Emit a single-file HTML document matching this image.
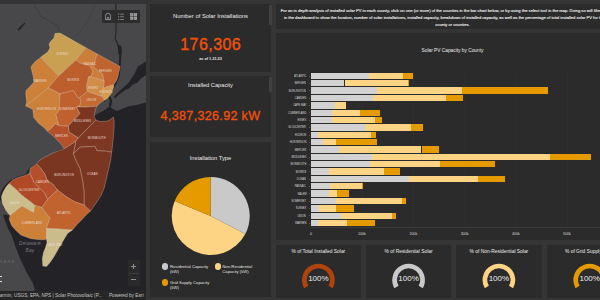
<!DOCTYPE html>
<html><head><meta charset="utf-8">
<style>
*{margin:0;padding:0;box-sizing:border-box}
html,body{width:600px;height:300px;overflow:hidden;background:#353535;font-family:"Liberation Sans",sans-serif;color:#ececec}
.abs{position:absolute}
.panel{position:absolute;background:#2b2b2b}
.t{position:absolute;white-space:nowrap;text-align:center}
.lb{position:absolute;right:293.7px;font-size:3.05px;line-height:4px;color:#dcdcdc;white-space:nowrap;transform:scaleX(0.86);transform-origin:100% 50%}
.bar{position:absolute;height:6.4px}
.dot{position:absolute;width:6.6px;height:6.6px;border-radius:50%}
.lg{position:absolute;font-size:4.2px;line-height:4.9px;color:#e0e0e0;white-space:nowrap}
</style></head><body>
<div class="abs" style="left:0;top:0;width:600px;height:300px;overflow:hidden">

<!-- MAP -->
<div class="abs" id="map" style="left:0;top:3.5px;width:146px;height:296.5px;background:#48484a;overflow:hidden">
<svg width="146" height="297" viewBox="0 3.5 146 297" style="position:absolute;left:0;top:0">
<!--MAPSVG-->
<rect x="0" y="3.5" width="146" height="297" fill="#48484a"/>
<path d="M146,102 L136,104.5 L128,106 L117,110.5 L112,108 L110,105.5 L106,108.5 L103,110.5 L98,113 L94,115.5 L90,118 L100,125 L105,160 L85,205 L60,235 L45,240 L30,232 L15,222 L10,215 L3,214 L5,220 L8,228 L11.7,235 L15,245 L20,258 L26.7,272 L33,283 L35,290 L35,292 L35,300.5 L146,300.5 Z" fill="#232327"/>
<path d="M114,96 L120,90 L128,83 L134,74 L138,66 L146,61 L146,74.5 L141,78 L137,82.5 L133,84 L129,88 L126,89 L119,94 L115,98 Z" fill="#232327"/>
<path d="M115.8,3.5 L116,20 L116,32 L115,38 L118,44" fill="none" stroke="#232327" stroke-width="1.1" stroke-linejoin="round"/>
<path d="M118,44 L120.5,52 L120,60 L119.5,68 L118.5,76 L115,84 L110,93 L104,101" fill="none" stroke="#232327" stroke-width="2" stroke-linejoin="round"/>
<ellipse cx="120" cy="50" rx="1.8" ry="5" fill="#232327"/>
<path d="M106,98 L109,96 L111,100 L110,106" fill="none" stroke="#232327" stroke-width="2.4" stroke-linejoin="round"/>
<path d="M64,148.5 L57,151 L50,156 L42,160 L36,164 L30,168 L26,174.5 L18,177 L10,181 L5,186 L1.5,192 L0,200" fill="none" stroke="#232327" stroke-width="1.5" stroke-linejoin="round"/>
<path d="M19,29 L21,27 L23,24.5 L25,22.5 L24,23.5 L21,26 L18,29.5" fill="none" stroke="#232327" stroke-width="1.2"/>
<path d="M33.8,3.5 L37.5,10 L41,16 L50,21 L57.5,25 L60,32.5" fill="none" stroke="#333335" stroke-width="0.5"/>
<path d="M95,3.5 L91,15 L85,25 L75,36" fill="none" stroke="#38383a" stroke-width="0.4"/>
<path d="M60.0,32.5 L86.0,47.3 L76.0,59.5 L58.5,75.5 L40.8,57.0 L41.7,55.8 L45.0,53.5 L47.5,51.7 L50.0,47.5 L49.0,43.5 L50.8,40.8 L54.0,37.5 L55.0,33.0Z" fill="#c9a052" stroke="#f2d6c4" stroke-opacity="0.6" stroke-width="0.5" stroke-linejoin="round"/>
<path d="M86.0,47.3 L97.3,53.5 L96.0,57.0 L94.7,62.0 L94.0,66.7 L98.7,70.7 L102.7,73.3 L104.0,80.3 L96.0,78.0 L88.7,76.3 L91.3,75.5 L92.7,70.7 L90.0,65.3 L84.7,64.0 L80.0,62.7 L76.0,59.5Z" fill="#cb7d3a" stroke="#f2d6c4" stroke-opacity="0.6" stroke-width="0.5" stroke-linejoin="round"/>
<path d="M97.3,53.5 L120.0,66.0 L119.5,69.0 L118.7,72.0 L118.0,75.7 L116.5,80.0 L113.5,84.5 L108.0,86.0 L103.3,87.7 L103.8,84.0 L104.0,80.3 L102.7,73.3 L98.7,70.7 L94.0,66.7 L94.7,62.0 L96.0,57.0Z" fill="#c0632f" stroke="#f2d6c4" stroke-opacity="0.6" stroke-width="0.5" stroke-linejoin="round"/>
<path d="M40.8,57.0 L58.5,75.5 L48.3,87.5 L25.8,105.5 L26.7,101.0 L25.8,94.0 L26.0,90.0 L29.0,87.0 L34.0,81.5 L33.3,76.0 L32.0,71.0 L31.0,66.5 L33.5,63.0 L36.5,60.0Z" fill="#cc8038" stroke="#f2d6c4" stroke-opacity="0.6" stroke-width="0.5" stroke-linejoin="round"/>
<path d="M58.5,75.5 L76.0,59.5 L80.0,62.7 L84.7,64.0 L90.0,65.3 L92.7,70.7 L91.3,75.5 L88.7,76.3 L86.7,85.0 L87.3,91.0 L83.3,94.3 L79.5,97.3 L77.5,96.7 L73.3,90.0 L66.0,92.0 L60.0,93.3 L48.3,87.5Z" fill="#bd5f2c" stroke="#f2d6c4" stroke-opacity="0.6" stroke-width="0.5" stroke-linejoin="round"/>
<path d="M25.8,105.5 L48.3,87.5 L60.0,93.3 L59.5,103.0 L59.2,110.0 L56.0,114.0 L57.5,120.0 L59.0,125.0 L55.0,123.3 L52.5,126.7 L47.5,130.8 L43.9,127.0 L38.3,122.5 L33.8,117.0 L32.8,109.0 L29.0,107.0Z" fill="#cc8039" stroke="#f2d6c4" stroke-opacity="0.6" stroke-width="0.5" stroke-linejoin="round"/>
<path d="M88.7,76.3 L96.0,78.0 L104.0,80.3 L103.8,84.0 L103.3,87.7 L102.5,92.0 L102.0,96.0 L96.7,94.3 L91.3,92.3 L87.3,91.0 L86.7,85.0Z" fill="#d08d45" stroke="#f2d6c4" stroke-opacity="0.6" stroke-width="0.5" stroke-linejoin="round"/>
<path d="M103.3,87.7 L108.0,86.0 L113.5,84.5 L113.8,86.5 L112.5,89.5 L111.3,93.0 L109.0,96.0 L107.3,98.3 L104.5,99.8 L102.0,96.0 L102.5,92.0Z" fill="#d49a52" stroke="#f2d6c4" stroke-opacity="0.6" stroke-width="0.5" stroke-linejoin="round"/>
<path d="M87.3,91.0 L91.3,92.3 L96.7,94.3 L102.0,96.0 L104.5,99.8 L102.0,101.0 L100.0,102.5 L98.0,104.5 L96.7,105.8 L86.0,106.5 L76.5,106.5 L80.0,104.5 L80.8,101.0 L79.5,97.3 L83.3,94.3Z" fill="#c46a33" stroke="#f2d6c4" stroke-opacity="0.6" stroke-width="0.5" stroke-linejoin="round"/>
<path d="M60.0,93.3 L66.0,92.0 L73.3,90.0 L77.5,96.7 L79.5,97.3 L80.8,101.0 L80.0,104.5 L76.5,106.5 L80.0,113.0 L78.3,115.0 L73.3,120.0 L68.3,125.8 L59.0,125.0 L57.5,120.0 L56.0,114.0 L59.2,110.0 L59.5,103.0Z" fill="#bf612f" stroke="#f2d6c4" stroke-opacity="0.6" stroke-width="0.5" stroke-linejoin="round"/>
<path d="M76.5,106.5 L86.0,106.5 L96.7,105.8 L95.5,109.0 L94.5,113.0 L94.2,116.5 L95.8,119.5 L86.0,129.5 L78.3,137.5 L69.0,131.7 L68.3,125.8 L73.3,120.0 L78.3,115.0 L80.0,113.0Z" fill="#7b3622" stroke="#f2d6c4" stroke-opacity="0.6" stroke-width="0.5" stroke-linejoin="round"/>
<path d="M47.5,130.8 L52.5,126.7 L55.0,123.3 L59.0,125.0 L68.3,125.8 L69.0,131.7 L78.3,137.5 L75.8,140.8 L68.3,145.8 L64.0,148.3 L61.3,143.6 L57.5,140.0 L54.9,137.2 L52.0,134.4Z" fill="#b4512a" stroke="#f2d6c4" stroke-opacity="0.6" stroke-width="0.5" stroke-linejoin="round"/>
<path d="M78.3,137.5 L86.0,129.5 L95.8,119.5 L100.0,121.0 L106.7,120.8 L110.5,119.0 L113.3,116.5 L114.2,121.0 L114.0,128.0 L113.3,137.0 L112.5,145.0 L111.7,151.7 L106.7,150.8 L96.7,150.0 L95.0,145.8 L80.0,146.7 L73.3,153.3 L75.8,140.8Z" fill="#7d3722" stroke="#f2d6c4" stroke-opacity="0.6" stroke-width="0.5" stroke-linejoin="round"/>
<path d="M73.3,153.3 L80.0,146.7 L95.0,145.8 L96.7,150.0 L106.7,150.8 L111.7,151.7 L110.8,158.0 L109.5,165.0 L107.8,172.0 L106.0,180.0 L104.0,188.0 L101.0,195.0 L96.5,202.0 L90.5,210.5 L84.0,204.5 L84.0,190.0 L82.5,180.0 L80.0,168.0 L75.8,160.0Z" fill="#7b3622" stroke="#f2d6c4" stroke-opacity="0.6" stroke-width="0.5" stroke-linejoin="round"/>
<path d="M36.5,163.5 L40.0,159.5 L44.0,157.0 L48.0,155.0 L53.0,152.5 L58.0,150.5 L64.0,148.3 L68.3,145.8 L75.8,140.8 L73.3,153.3 L75.8,160.0 L80.0,168.0 L82.5,180.0 L84.0,190.0 L84.0,204.5 L74.0,201.0 L66.0,196.0 L57.5,189.5 L52.7,183.5 L47.5,180.5 L44.5,173.0 L40.0,167.0Z" fill="#7b3622" stroke="#f2d6c4" stroke-opacity="0.6" stroke-width="0.5" stroke-linejoin="round"/>
<path d="M30.0,173.0 L30.0,168.0 L36.5,163.5 L40.0,167.0 L44.5,173.0 L47.5,180.5 L52.7,183.5 L57.5,189.5 L47.5,199.0 L44.5,192.5 L40.0,188.0 L34.0,182.0Z" fill="#b34f2a" stroke="#f2d6c4" stroke-opacity="0.6" stroke-width="0.5" stroke-linejoin="round"/>
<path d="M9.0,183.0 L12.0,180.0 L16.0,178.0 L20.0,176.5 L25.0,175.0 L30.0,173.0 L34.0,182.0 L40.0,188.0 L44.5,192.5 L47.5,199.0 L42.0,207.0 L35.0,205.0 L30.0,201.0 L22.0,195.0 L15.0,188.0Z" fill="#b04a26" stroke="#f2d6c4" stroke-opacity="0.6" stroke-width="0.5" stroke-linejoin="round"/>
<path d="M10.0,215.0 L6.0,210.0 L2.5,203.0 L1.5,196.0 L4.0,190.0 L6.5,186.0 L9.0,183.0 L15.0,188.0 L22.0,195.0 L30.0,201.0 L35.0,205.0 L33.5,212.0 L22.0,205.5Z" fill="#cbbc8c" stroke="#f2d6c4" stroke-opacity="0.6" stroke-width="0.5" stroke-linejoin="round"/>
<path d="M10.0,215.0 L22.0,205.5 L33.5,212.0 L35.0,205.0 L42.0,207.0 L45.0,211.0 L50.0,217.5 L46.5,228.0 L46.5,238.5 L42.0,239.3 L36.0,238.8 L30.3,238.0 L25.0,236.0 L21.0,234.6 L16.0,230.0 L11.7,225.0 L9.3,219.0Z" fill="#cc8038" stroke="#f2d6c4" stroke-opacity="0.6" stroke-width="0.5" stroke-linejoin="round"/>
<path d="M47.5,199.0 L57.5,189.5 L66.0,196.0 L74.0,201.0 L84.0,204.5 L90.5,210.5 L86.0,214.5 L82.0,219.0 L77.0,224.0 L72.3,229.5 L58.0,228.5 L46.5,228.0 L50.0,217.5 L45.0,211.0 L42.0,207.0Z" fill="#c0632f" stroke="#f2d6c4" stroke-opacity="0.6" stroke-width="0.5" stroke-linejoin="round"/>
<path d="M46.5,228.0 L58.0,228.5 L72.3,229.5 L67.5,233.0 L63.0,240.5 L58.3,248.6 L53.6,256.8 L50.0,262.0 L46.5,266.0 L42.8,265.5 L42.3,258.0 L43.5,252.0 L45.5,247.0 L47.0,242.0 L46.5,238.5Z" fill="#cbbc8c" stroke="#f2d6c4" stroke-opacity="0.6" stroke-width="0.5" stroke-linejoin="round"/>
<g font-family="Liberation Sans" font-size="2.85" fill="#eadbd0" letter-spacing="0.1"><text x="62.5" y="54" text-anchor="middle">SUSSEX</text><text x="90" y="64.3" text-anchor="middle">PASSAIC</text><text x="105.3" y="71.4" text-anchor="middle">BERGEN</text><text x="40" y="81.3" text-anchor="middle">WARREN</text><text x="73.3" y="80.7" text-anchor="middle">MORRIS</text><text x="46.3" y="109.3" text-anchor="middle">HUNTERDON</text><text x="67.3" y="109.5" text-anchor="middle">SOMERSET</text><text x="93.3" y="88" text-anchor="middle">ESSEX</text><text x="106" y="92.7" text-anchor="middle">HUDSON</text><text x="91.3" y="100.4" text-anchor="middle">UNION</text><text x="82.5" y="121.8" text-anchor="middle">MIDDLESEX</text><text x="61.7" y="136.8" text-anchor="middle">MERCER</text><text x="96.7" y="138.5" text-anchor="middle">MONMOUTH</text><text x="64" y="175.4" text-anchor="middle">BURLINGTON</text><text x="92.4" y="174.4" text-anchor="middle">OCEAN</text><text x="42.4" y="182.4" text-anchor="middle">CAMDEN</text><text x="29" y="190.6" text-anchor="middle">GLOUCESTER</text><text x="14.5" y="203" text-anchor="middle">SALEM</text><text x="31.7" y="223.2" text-anchor="middle">CUMBERLAND</text><text x="64.1" y="213.5" text-anchor="middle">ATLANTIC</text><text x="54.8" y="245" text-anchor="middle">CAPE MAY</text></g>
<text x="30" y="244.3" text-anchor="middle" font-family="Liberation Sans" font-style="italic" font-size="4.7" fill="#76767c" letter-spacing="0.25">Delaware</text><text x="30" y="251.8" text-anchor="middle" font-family="Liberation Sans" font-style="italic" font-size="4.7" fill="#76767c" letter-spacing="0.25">Bay</text><text x="-1.5" y="262" font-family="Liberation Sans" font-size="4.1" fill="#6c6c70" letter-spacing="1.3">WARE</text>
<!--/MAPSVG-->
</svg>
<!-- map toolbar -->
<div class="abs" style="left:101.6px;top:6.7px;width:38.2px;height:12.6px;background:#2c2c2c;border-radius:1px"></div>
<svg class="abs" style="left:0;top:-3.5px" width="146" height="300" viewBox="0 0 146 300">
 <g fill="none" stroke="#c4c4c4" stroke-width="0.6" stroke-linejoin="round">
  <path d="M105.5,19.6 L105.5,16.6 Q105.5,13.3 108,13.1 Q110.6,13.3 110.6,16.6 L110.6,19.6 Z"/>
  <path d="M107.2,19.4 L107.2,17.6 Q108,16.7 108.9,17.6 L108.9,19.4"/>
 </g>
 <g fill="#c4c4c4">
  <rect x="118.3" y="13.6" width="0.9" height="0.9"/><rect x="118.3" y="16.4" width="0.9" height="0.9"/><rect x="118.3" y="19" width="0.9" height="0.9"/>
  <rect x="120.2" y="13.8" width="3.7" height="0.55"/><rect x="120.2" y="16.6" width="3.7" height="0.55"/><rect x="120.2" y="19.2" width="3.7" height="0.55"/>
  <rect x="134.3" y="13.6" width="2.5" height="2.5" fill="#8c8c8c"/><rect x="134.3" y="17.2" width="2.5" height="2.5" fill="#8c8c8c"/>
  <rect x="130.6" y="13.6" width="2.5" height="2.5" fill="#8c8c8c"/><rect x="130.6" y="17.2" width="2.5" height="2.5" fill="#8c8c8c"/>
 </g>
 <g fill="none" stroke="#c4c4c4" stroke-width="0.45">
  <rect x="130.6" y="13.6" width="2.5" height="2.5"/><rect x="134.3" y="13.6" width="2.5" height="2.5"/><rect x="130.6" y="17.2" width="2.5" height="2.5"/><rect x="134.3" y="17.2" width="2.5" height="2.5"/>
 </g>
</svg>
<!-- zoom -->
<div class="abs" style="left:127.5px;top:256.5px;width:12.5px;height:25.5px;background:#2a2a2b"></div>
<div class="abs" style="left:128.5px;top:269.3px;width:10.5px;height:0.45px;background:#3c3c3c"></div>
<div class="abs" style="left:130.8px;top:262.6px;width:5px;height:0.45px;background:#929292"></div>
<div class="abs" style="left:133.08px;top:260.3px;width:0.45px;height:5px;background:#929292"></div>
<div class="abs" style="left:130.8px;top:275.9px;width:5px;height:0.45px;background:#929292"></div>
<!-- attribution -->
<div class="abs" style="left:0;top:287.25px;width:146px;height:10px;background:#262627"></div>
<div class="abs" style="left:0;top:272.5px;width:2px;height:1.4px;background:#ddd"></div><div class="abs" style="left:0;top:277.5px;width:2px;height:1.4px;background:#ddd"></div>
<div class="abs" style="left:-0.3px;top:289px;font-size:4.7px;color:#c4c4c4;white-space:nowrap">armin, USGS, EPA, NPS | Solar Photovoltaic (P...</div>
<div class="abs" style="left:108.9px;top:289px;font-size:4.75px;color:#c4c4c4;white-space:nowrap">Powered by Esri</div>
</div>

<!-- KPI 1 -->
<div class="panel" style="left:150px;top:4px;width:121px;height:67.5px"></div>
<div class="t" style="left:150px;width:121px;top:13.2px;font-size:5.85px">Number of Solar Installations</div>
<div class="t" style="left:150px;width:121px;top:35.6px;font-size:16px;color:#f0500a;-webkit-text-stroke:0.4px #f0500a;letter-spacing:0.45px;text-indent:0.45px">176,306</div>
<div class="t" style="left:150px;width:121px;top:56.5px;font-size:3.8px;font-weight:bold">as of 1.31.23</div>
<div class="abs" style="left:268.6px;top:4.7px;width:3px;height:20px;background:#414141;border-radius:1px"></div>
<!-- KPI 2 -->
<div class="panel" style="left:150px;top:75.5px;width:121px;height:61px"></div>
<div class="t" style="left:150px;width:121px;top:81.7px;font-size:5.7px">Installed Capacity</div>
<div class="t" style="left:150px;width:121px;top:33px;font-size:12.5px;color:#f0500a;top:108.9px;letter-spacing:0.35px;-webkit-text-stroke:0.35px #f0500a">4,387,326.92 kW</div>
<div class="abs" style="left:268.6px;top:76.5px;width:3px;height:15px;background:#414141;border-radius:1px"></div>
<!-- PIE -->
<div class="panel" style="left:150px;top:141.8px;width:121px;height:155.5px"></div>
<div class="t" style="left:150px;width:121px;top:154.5px;font-size:5.75px">Installation Type</div>
<svg class="abs" style="left:0;top:0" width="600" height="300"><path d="M210.7,216 L210.70,177.00 A39,39 0 0 1 245.29,234.01 Z" fill="#c9c9c9"/><path d="M210.7,216 L245.29,234.01 A39,39 0 0 1 174.67,201.08 Z" fill="#fdd384"/><path d="M210.7,216 L174.67,201.08 A39,39 0 0 1 210.70,177.00 Z" fill="#e59b00"/></svg>
<div class="dot" style="left:161.7px;top:263.3px;background:#c9c9c9"></div>
<div class="lg" style="left:170px;top:265.1px">Residential Capacity<br>(kW)</div>
<div class="dot" style="left:214.7px;top:263.3px;background:#fdd384"></div>
<div class="lg" style="left:222.3px;top:265.1px">Non-Residential<br>Capacity (kW)</div>
<div class="dot" style="left:161.7px;top:279.3px;background:#e59b00"></div>
<div class="lg" style="left:170px;top:281.1px">Grid Supply Capacity<br>(kW)</div>

<!-- TEXT PANEL -->
<div class="panel" style="left:275.5px;top:4px;width:360px;height:24.7px"></div>
<div class="t" style="left:276.5px;width:352px;top:7px;font-size:4.1px;line-height:7.2px;white-space:normal;padding:0 2px;color:#f6f6f6;-webkit-text-stroke:0.1px #f6f6f6">For an in depth analysis of installed solar PV in each county, click on one (or more) of the counties in the bar chart below, or by using the select tool in the map. Doing so will filter all elements in the dashboard to show the location, number of solar installations, installed capacity, breakdown of installed capacity, as well as the percentage of total installed solar PV for the selected county or counties.</div>

<!-- CHART PANEL -->
<div class="panel" style="left:275.5px;top:32.8px;width:340px;height:207.6px"></div>
<div class="t" style="left:276.5px;width:352px;top:47.9px;font-size:4.8px">Solar PV Capacity by County</div>
<div class="abs" style="left:362.2px;top:70px;width:0.6px;height:157px;background:#2f2f2f"></div>
<div class="abs" style="left:413.4px;top:70px;width:0.6px;height:157px;background:#2f2f2f"></div>
<div class="abs" style="left:464.6px;top:70px;width:0.6px;height:157px;background:#2f2f2f"></div>
<div class="abs" style="left:515.8px;top:70px;width:0.6px;height:157px;background:#2f2f2f"></div>
<div class="abs" style="left:567px;top:70px;width:0.6px;height:157px;background:#2f2f2f"></div>
<div class="abs" style="left:310.5px;top:226.5px;width:290px;height:0.6px;background:#3c3c3c"></div>
<div class="lb" style="top:73.90px">ATLANTIC</div>
<div class="bar" style="top:72.70px;left:311.3px;width:58.0px;background:#d2d2d2"></div>
<div class="bar" style="top:72.70px;left:369.3px;width:33.4px;background:#fdd384"></div>
<div class="bar" style="top:72.70px;left:402.7px;width:10.1px;background:#e59b00"></div>
<div class="lb" style="top:81.26px">BERGEN</div>
<div class="bar" style="top:80.06px;left:311.3px;width:33.2px;background:#d2d2d2"></div>
<div class="bar" style="top:80.06px;left:344.5px;width:63.5px;background:#fdd384"></div>
<div class="bar" style="top:80.06px;left:408px;width:0.8px;background:#e59b00"></div>
<div class="lb" style="top:88.62px">BURLINGTON</div>
<div class="bar" style="top:87.42px;left:311.3px;width:65.7px;background:#d2d2d2"></div>
<div class="bar" style="top:87.42px;left:377px;width:85.0px;background:#fdd384"></div>
<div class="bar" style="top:87.42px;left:462px;width:86.0px;background:#e59b00"></div>
<div class="lb" style="top:95.98px">CAMDEN</div>
<div class="bar" style="top:94.78px;left:311.3px;width:61.7px;background:#d2d2d2"></div>
<div class="bar" style="top:94.78px;left:373px;width:72.5px;background:#fdd384"></div>
<div class="bar" style="top:94.78px;left:445.5px;width:17.1px;background:#e59b00"></div>
<div class="lb" style="top:103.34px">CAPE MAY</div>
<div class="bar" style="top:102.14px;left:311.3px;width:23.9px;background:#d2d2d2"></div>
<div class="bar" style="top:102.14px;left:335.2px;width:10.7px;background:#fdd384"></div>
<div class="lb" style="top:110.70px">CUMBERLAND</div>
<div class="bar" style="top:109.50px;left:311.3px;width:21.0px;background:#d2d2d2"></div>
<div class="bar" style="top:109.50px;left:332.3px;width:27.7px;background:#fdd384"></div>
<div class="bar" style="top:109.50px;left:360px;width:20.3px;background:#e59b00"></div>
<div class="lb" style="top:118.06px">ESSEX</div>
<div class="bar" style="top:116.86px;left:311.3px;width:21.0px;background:#d2d2d2"></div>
<div class="bar" style="top:116.86px;left:332.3px;width:42.9px;background:#fdd384"></div>
<div class="bar" style="top:116.86px;left:375.2px;width:6.7px;background:#e59b00"></div>
<div class="lb" style="top:125.42px">GLOUCESTER</div>
<div class="bar" style="top:124.22px;left:311.3px;width:53.5px;background:#d2d2d2"></div>
<div class="bar" style="top:124.22px;left:364.8px;width:45.9px;background:#fdd384"></div>
<div class="bar" style="top:124.22px;left:410.7px;width:12.8px;background:#e59b00"></div>
<div class="lb" style="top:132.78px">HUDSON</div>
<div class="bar" style="top:131.58px;left:311.3px;width:6.9px;background:#d2d2d2"></div>
<div class="bar" style="top:131.58px;left:318.2px;width:52.5px;background:#fdd384"></div>
<div class="bar" style="top:131.58px;left:370.7px;width:5.3px;background:#e59b00"></div>
<div class="lb" style="top:140.14px">HUNTERDON</div>
<div class="bar" style="top:138.94px;left:311.3px;width:12.0px;background:#d2d2d2"></div>
<div class="bar" style="top:138.94px;left:323.3px;width:12.7px;background:#fdd384"></div>
<div class="bar" style="top:138.94px;left:336px;width:41.3px;background:#e59b00"></div>
<div class="lb" style="top:147.50px">MERCER</div>
<div class="bar" style="top:146.30px;left:311.3px;width:27.4px;background:#d2d2d2"></div>
<div class="bar" style="top:146.30px;left:338.7px;width:82.8px;background:#fdd384"></div>
<div class="bar" style="top:146.30px;left:421.5px;width:17.2px;background:#e59b00"></div>
<div class="lb" style="top:154.86px">MIDDLESEX</div>
<div class="bar" style="top:153.66px;left:311.3px;width:60.7px;background:#d2d2d2"></div>
<div class="bar" style="top:153.66px;left:372px;width:178.0px;background:#fdd384"></div>
<div class="bar" style="top:153.66px;left:550px;width:41.0px;background:#e59b00"></div>
<div class="lb" style="top:162.22px">MONMOUTH</div>
<div class="bar" style="top:161.02px;left:311.3px;width:58.7px;background:#d2d2d2"></div>
<div class="bar" style="top:161.02px;left:370px;width:70.0px;background:#fdd384"></div>
<div class="bar" style="top:161.02px;left:440px;width:55.0px;background:#e59b00"></div>
<div class="lb" style="top:169.58px">MORRIS</div>
<div class="bar" style="top:168.38px;left:311.3px;width:18.0px;background:#d2d2d2"></div>
<div class="bar" style="top:168.38px;left:329.3px;width:55.0px;background:#fdd384"></div>
<div class="bar" style="top:168.38px;left:384.3px;width:16.0px;background:#e59b00"></div>
<div class="lb" style="top:176.94px">OCEAN</div>
<div class="bar" style="top:175.74px;left:311.3px;width:98.0px;background:#d2d2d2"></div>
<div class="bar" style="top:175.74px;left:409.3px;width:69.0px;background:#fdd384"></div>
<div class="bar" style="top:175.74px;left:478.3px;width:26.7px;background:#e59b00"></div>
<div class="lb" style="top:184.30px">PASSAIC</div>
<div class="bar" style="top:183.10px;left:311.3px;width:18.7px;background:#d2d2d2"></div>
<div class="bar" style="top:183.10px;left:330px;width:31.7px;background:#fdd384"></div>
<div class="bar" style="top:183.10px;left:361.7px;width:1.6px;background:#e59b00"></div>
<div class="lb" style="top:191.66px">SALEM</div>
<div class="bar" style="top:190.46px;left:311.3px;width:18.0px;background:#d2d2d2"></div>
<div class="bar" style="top:190.46px;left:329.3px;width:7.7px;background:#fdd384"></div>
<div class="bar" style="top:190.46px;left:337px;width:11.7px;background:#e59b00"></div>
<div class="lb" style="top:199.02px">SOMERSET</div>
<div class="bar" style="top:197.82px;left:311.3px;width:24.4px;background:#d2d2d2"></div>
<div class="bar" style="top:197.82px;left:335.7px;width:66.3px;background:#fdd384"></div>
<div class="bar" style="top:197.82px;left:402px;width:3.7px;background:#e59b00"></div>
<div class="lb" style="top:206.38px">SUSSEX</div>
<div class="bar" style="top:205.18px;left:311.3px;width:7.7px;background:#d2d2d2"></div>
<div class="bar" style="top:205.18px;left:319px;width:17.0px;background:#fdd384"></div>
<div class="bar" style="top:205.18px;left:336px;width:18.0px;background:#e59b00"></div>
<div class="lb" style="top:213.74px">UNION</div>
<div class="bar" style="top:212.54px;left:311.3px;width:29.4px;background:#d2d2d2"></div>
<div class="bar" style="top:212.54px;left:340.7px;width:51.6px;background:#fdd384"></div>
<div class="bar" style="top:212.54px;left:392.3px;width:3.4px;background:#e59b00"></div>
<div class="lb" style="top:221.10px">WARREN</div>
<div class="bar" style="top:219.90px;left:311.3px;width:7.0px;background:#d2d2d2"></div>
<div class="bar" style="top:219.90px;left:318.3px;width:28.7px;background:#fdd384"></div>
<div class="bar" style="top:219.90px;left:347px;width:27.7px;background:#e59b00"></div>

<div class="abs" style="left:308.8px;top:75.65px;width:1.6px;height:0.5px;background:#5a5a5a"></div><div class="abs" style="left:308.8px;top:83.01px;width:1.6px;height:0.5px;background:#5a5a5a"></div><div class="abs" style="left:308.8px;top:90.37px;width:1.6px;height:0.5px;background:#5a5a5a"></div><div class="abs" style="left:308.8px;top:97.73px;width:1.6px;height:0.5px;background:#5a5a5a"></div><div class="abs" style="left:308.8px;top:105.09px;width:1.6px;height:0.5px;background:#5a5a5a"></div><div class="abs" style="left:308.8px;top:112.45px;width:1.6px;height:0.5px;background:#5a5a5a"></div><div class="abs" style="left:308.8px;top:119.81px;width:1.6px;height:0.5px;background:#5a5a5a"></div><div class="abs" style="left:308.8px;top:127.17px;width:1.6px;height:0.5px;background:#5a5a5a"></div><div class="abs" style="left:308.8px;top:134.53px;width:1.6px;height:0.5px;background:#5a5a5a"></div><div class="abs" style="left:308.8px;top:141.89px;width:1.6px;height:0.5px;background:#5a5a5a"></div><div class="abs" style="left:308.8px;top:149.25px;width:1.6px;height:0.5px;background:#5a5a5a"></div><div class="abs" style="left:308.8px;top:156.61px;width:1.6px;height:0.5px;background:#5a5a5a"></div><div class="abs" style="left:308.8px;top:163.97px;width:1.6px;height:0.5px;background:#5a5a5a"></div><div class="abs" style="left:308.8px;top:171.33px;width:1.6px;height:0.5px;background:#5a5a5a"></div><div class="abs" style="left:308.8px;top:178.69px;width:1.6px;height:0.5px;background:#5a5a5a"></div><div class="abs" style="left:308.8px;top:186.05px;width:1.6px;height:0.5px;background:#5a5a5a"></div><div class="abs" style="left:308.8px;top:193.41px;width:1.6px;height:0.5px;background:#5a5a5a"></div><div class="abs" style="left:308.8px;top:200.77px;width:1.6px;height:0.5px;background:#5a5a5a"></div><div class="abs" style="left:308.8px;top:208.13px;width:1.6px;height:0.5px;background:#5a5a5a"></div><div class="abs" style="left:308.8px;top:215.49px;width:1.6px;height:0.5px;background:#5a5a5a"></div><div class="abs" style="left:308.8px;top:222.85px;width:1.6px;height:0.5px;background:#5a5a5a"></div>
<div class="t" style="left:301px;width:20px;top:231.8px;font-size:3.6px;color:#ddd">0</div>
<div class="t" style="left:352px;width:20px;top:231.8px;font-size:3.6px;color:#ddd">100k</div>
<div class="t" style="left:403.4px;width:20px;top:231.8px;font-size:3.6px;color:#ddd">200k</div>
<div class="t" style="left:454.6px;width:20px;top:231.8px;font-size:3.6px;color:#ddd">300k</div>
<div class="t" style="left:505.8px;width:20px;top:231.8px;font-size:3.6px;color:#ddd">400k</div>
<div class="t" style="left:557px;width:20px;top:231.8px;font-size:3.6px;color:#ddd">500k</div>

<!-- GAUGES -->
<div class="panel" style="left:275.5px;top:244.8px;width:85.8px;height:53px"></div>
<div class="t" style="left:275.5px;width:85.8px;top:249.1px;font-size:4.9px">% of Total Installed Solar</div>
<svg class="abs" style="left:0;top:0" width="600" height="300"><path d="M306.28,287.00 A14,14 0 1 1 330.52,287.00" fill="none" stroke="#b0430b" stroke-width="4.7"/></svg>
<div class="t" style="left:298.40px;width:40px;top:274.1px;font-size:8px;color:#eee">100%</div>
<div class="panel" style="left:365.7px;top:244.8px;width:85.8px;height:53px"></div>
<div class="t" style="left:365.7px;width:85.8px;top:249.1px;font-size:4.9px">% of Residential Solar</div>
<svg class="abs" style="left:0;top:0" width="600" height="300"><path d="M396.48,287.00 A14,14 0 1 1 420.72,287.00" fill="none" stroke="#c9c9c9" stroke-width="4.7"/></svg>
<div class="t" style="left:388.60px;width:40px;top:274.1px;font-size:8px;color:#eee">100%</div>
<div class="panel" style="left:456px;top:244.8px;width:85.8px;height:53px"></div>
<div class="t" style="left:456px;width:85.8px;top:249.1px;font-size:4.9px">% of Non-Residential Solar</div>
<svg class="abs" style="left:0;top:0" width="600" height="300"><path d="M486.78,287.00 A14,14 0 1 1 511.02,287.00" fill="none" stroke="#fdd384" stroke-width="4.7"/></svg>
<div class="t" style="left:478.90px;width:40px;top:274.1px;font-size:8px;color:#eee">100%</div>
<div class="panel" style="left:546.8px;top:244.8px;width:85.8px;height:53px"></div>
<div class="t" style="left:546.8px;width:85.8px;top:249.1px;font-size:4.9px">% of Grid Supply Solar</div>
<svg class="abs" style="left:0;top:0" width="600" height="300"><path d="M577.58,287.00 A14,14 0 1 1 601.82,287.00" fill="none" stroke="#e59b00" stroke-width="4.7"/></svg>
<div class="t" style="left:569.70px;width:40px;top:274.1px;font-size:8px;color:#eee">100%</div>

</div>
</body></html>
